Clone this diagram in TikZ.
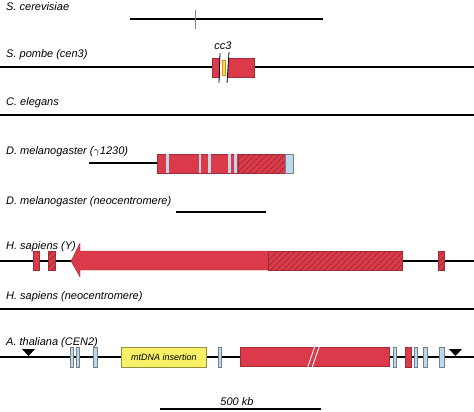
\documentclass[tikz,border=0pt]{standalone}
\usepackage{fontspec}
\setmainfont{Liberation Sans}
\usetikzlibrary{patterns.meta}

\definecolor{cenred}{RGB}{218,58,74}
\definecolor{cenblue}{RGB}{188,216,234}
\definecolor{cenyellow}{RGB}{248,240,102}

\begin{document}
\begin{tikzpicture}[x=1pt, y=-1pt,
    chrom/.style={line width=1.6pt},
    lbl/.style={font=\fontsize{11}{13}\selectfont\itshape, anchor=base west, inner sep=0pt},
    redbox/.style={fill=cenred, draw=cenred!75!black, line width=0.4pt},
    hatchbox/.style={redbox, postaction={pattern={Lines[angle=45,distance=4pt,line width=0.5pt]}, pattern color=cenred!55!black}},
    bluebar/.style={fill=cenblue, draw=cenblue!60!black, line width=0.4pt}]

    \useasboundingbox (0,0) rectangle (474,412);

    % S. cerevisiae
    \node[lbl] (cer) at (6,11) {S. cerevisiae};
    \draw[chrom] (130,19) -- (323,19);
    \draw[gray, line width=0.4pt] (195,10) -- (195,29);

    % S. pombe (cen3)
    \node[lbl] (pom) at (6,58) {S. pombe (cen3)};
    \draw[chrom] (0,67) -- (474,67);
    \fill[redbox] (212,58) rectangle (254,77);
    \fill[white] (219.5,57) rectangle (227.5,78);
    \filldraw[fill=cenyellow, draw=orange, line width=0.4pt] (222,60) rectangle (225,75);
    \draw[line width=0.8pt] (220,53) -- (219,83);
    \draw[line width=0.8pt] (229,52) -- (227,83);
    \node[font=\fontsize{11}{13}\selectfont\itshape, anchor=base, inner sep=0pt] (cc) at (223,50) {cc3};

    % C. elegans
    \node[lbl] (ele) at (6,106) {C. elegans};
    \draw[chrom] (0,115) -- (474,115);

    % D. melanogaster (gamma1230)
    \node[lbl] (mel) at (6,154) {D. melanogaster ($\gamma$1230)};
    \draw[chrom] (89,163) -- (157,163);
    \fill[redbox] (157,154) rectangle (238,173);
    \fill[hatchbox] (238,154) rectangle (285.5,173);
    \fill[bluebar] (285.5,154) rectangle (293,173);
    \foreach \s in {167.5,200,209.5,229.5,235.5}
        \fill[cenblue] (\s-1.2,154.4) rectangle (\s+1.2,172.6);

    % D. melanogaster (neocentromere)
    \node[lbl] (melneo) at (6,204) {D. melanogaster  (neocentromere)};
    \draw[chrom] (176,212) -- (266,212);

    % H. sapiens (Y)
    \node[lbl] (sapY) at (6,249) {H. sapiens (Y)};
    \draw[chrom] (0,261) -- (474,261);
    \fill[redbox] (33,251) rectangle (39,270);
    \fill[hatchbox] (48,251) rectangle (55,270);
    \fill[redbox] (71,261) -- (80,243) -- (80,251) -- (268,251) -- (268,270) -- (80,270) -- (80,277) -- cycle;
    \fill[hatchbox] (268,251) rectangle (402,270);
    \fill[hatchbox] (438,251) rectangle (444,270);

    % H. sapiens (neocentromere)
    \node[lbl] (sapneo) at (6,299) {H. sapiens (neocentromere)};
    \draw[chrom] (0,309) -- (474,309);

    % A. thaliana (CEN2)
    \node[lbl] (tha) at (6,345) {A. thaliana (CEN2)};
    \draw[chrom] (0,357) -- (474,357);
    \fill (22,349) -- (35,349) -- (28.5,356) -- cycle;
    \fill (449,349) -- (462,349) -- (455.5,356) -- cycle;
    \foreach \a/\b in {70/73,76/79,93.5/97,218/221.5,393/396.5,414/417,423/427,439/444}
        \fill[bluebar] (\a,347) rectangle (\b,367);
    \filldraw[fill=cenyellow, draw=cenyellow!60!black, line width=0.4pt] (121,347) rectangle (206,367);
    \node[font=\fontsize{9}{11}\selectfont\itshape, inner sep=0pt] (mt) at (164,357) {mtDNA insertion};
    \fill[redbox] (240,347) rectangle (389,366);
    \fill[redbox] (405,347) rectangle (411.5,367);
    \draw[white, line width=0.9pt] (316,343) -- (306,372);
    \draw[white, line width=0.9pt] (320.5,343) -- (310.5,372);

    % scale bar
    \node[font=\fontsize{11}{13}\selectfont\itshape, anchor=base, inner sep=0pt] (kb) at (237,405) {500 kb};
    \draw[chrom] (160,409) -- (321,409);

\end{tikzpicture}
\end{document}
